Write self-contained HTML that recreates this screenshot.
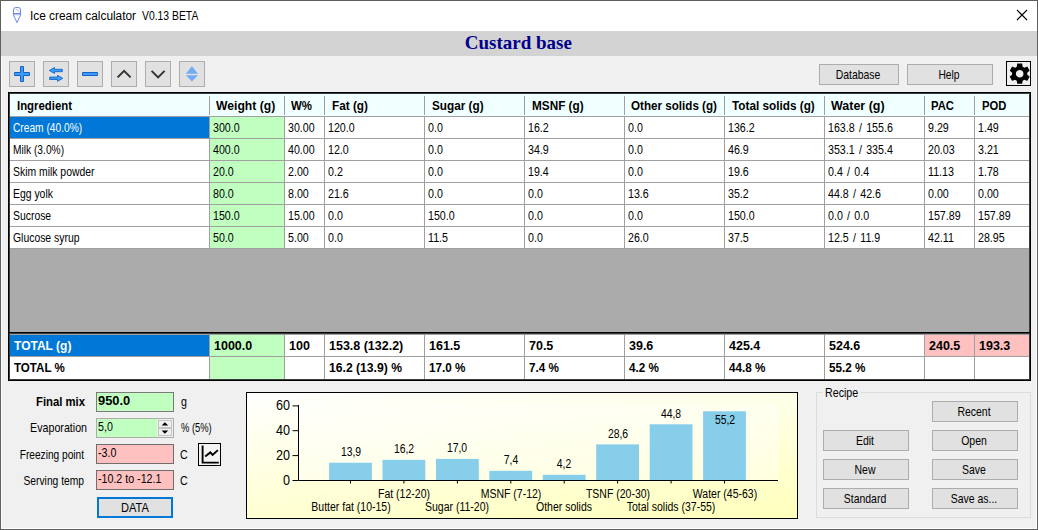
<!DOCTYPE html>
<html lang="en"><head><meta charset="utf-8"><title>Ice cream calculator</title>
<style>
html,body{margin:0;padding:0}
body{width:1038px;height:530px;position:relative;overflow:hidden;background:#f0f0f0;
 font-family:"Liberation Sans",Arial,sans-serif;font-size:13px;color:#000}
div,span,svg{position:absolute;box-sizing:border-box}
.t{white-space:pre;line-height:16px;font-size:13px}
.b{font-weight:bold}
.hd{font-family:"Liberation Serif","Times New Roman",serif;font-weight:bold;color:#00008b}
.ti{color:#000}
.w{color:#fff}
.btn{background:#e1e1e1;border:1px solid #adadad}
.vl{background:#a0a0a0;width:1px}
.hl{background:#a0a0a0;height:1px}
</style></head><body>

<div class="" style="left:0px;top:0px;width:1038px;height:530px;border:1px solid #5f5f5f"></div>
<div class="" style="left:1px;top:1px;width:1036px;height:528px;border:1px solid #fff;border-top:0"></div>
<div class="" style="left:1px;top:1px;width:1036px;height:30px;background:#fff"></div>
<div class="" style="left:1px;top:31px;width:1036px;height:25px;background:#d3d3d3"></div>
<svg style="left:11px;top:5px" width="12" height="20" viewBox="0 0 12 20">
<rect x="2.5" y="9" width="7" height="1.3" fill="#b4c4f7"/>
<g fill="none" stroke="#6a8aee" stroke-width="1">
<path d="M2.5 8.5 V4.8 Q2.5 2.5 4.8 2.5 H7.2 Q9.5 2.5 9.5 4.8 V8.5"/>
<path d="M4.2 4.2 Q7.6 3.6 8.4 7" stroke="#a9bcf6" stroke-width="0.9"/>
<path d="M2 8.5 H10"/>
<path d="M2.5 9 V10.2 L6 17.6 L9.5 10.2 V9"/>
</g></svg>
<span class="t ti" style="left:30px;top:7.7px;transform-origin:0 0;transform:scaleX(0.948);font-size:12.5px;">Ice cream calculator</span>
<span class="t ti" style="left:141.6px;top:7.7px;transform-origin:0 0;transform:scaleX(0.83);font-size:12.5px;">V0.13 BETA</span>
<svg style="left:1016px;top:9px" width="12" height="12" viewBox="0 0 12 12"><path d="M1 1 L11 11 M11 1 L1 11" stroke="#000" stroke-width="1.1" fill="none"/></svg>
<span class="t hd" style="left:518.3px;top:30.8px;transform-origin:50% 0;transform:translateX(-50%) scaleX(1);font-size:19px;line-height:24px;">Custard base</span>
<div class="btn" style="left:9px;top:61px;width:26px;height:26px;"></div>
<div class="btn" style="left:43px;top:61px;width:26px;height:26px;"></div>
<div class="btn" style="left:77px;top:61px;width:26px;height:26px;"></div>
<div class="btn" style="left:111px;top:61px;width:26px;height:26px;"></div>
<div class="btn" style="left:145px;top:61px;width:26px;height:26px;"></div>
<div class="btn" style="left:179px;top:61px;width:26px;height:26px;"></div>
<svg style="left:9px;top:61px" width="26" height="26" viewBox="0 0 26 26">
<path d="M11.5 5.5 H14.5 V11.5 H20.5 V14.5 H14.5 V20.5 H11.5 V14.5 H5.5 V11.5 H11.5 Z" fill="#3d9bff" stroke="#1565c0" stroke-width="1"/></svg>
<svg style="left:43px;top:61px" width="26" height="26" viewBox="0 0 26 26">
<path d="M6.3 9.5 L11.5 6.5 V8.3 H19.3 V10.7 H11.5 V12.5 Z" fill="#3d9bff" stroke="#1565c0" stroke-width="0.9"/>
<path d="M19.7 17.3 L14.5 14.3 V16.1 H6.7 V18.5 H14.5 V20.3 Z" fill="#3d9bff" stroke="#1565c0" stroke-width="0.9"/></svg>
<svg style="left:77px;top:61px" width="26" height="26" viewBox="0 0 26 26">
<path d="M5.5 11.5 H20.5 V14.5 H5.5 Z" fill="#3d9bff" stroke="#1565c0" stroke-width="1"/></svg>
<svg style="left:111px;top:61px" width="26" height="26" viewBox="0 0 26 26">
<path d="M6.6 16.4 L13.1 9.9 L19.6 16.4" fill="none" stroke="#333" stroke-width="2"/></svg>
<svg style="left:145px;top:61px" width="26" height="26" viewBox="0 0 26 26">
<path d="M6.6 9.9 L13.1 16.4 L19.6 9.9" fill="none" stroke="#333" stroke-width="2"/></svg>
<svg style="left:179px;top:61px" width="26" height="26" viewBox="0 0 26 26">
<path d="M12.9 5.2 L19 12.8 H6.8 Z M6.8 14.2 H19 L12.9 20.6 Z" fill="#74abf2"/></svg>
<div class="btn" style="left:819px;top:64px;width:80px;height:21px;"></div>
<span class="t r" style="left:858px;top:66.5px;transform-origin:50% 0;transform:translateX(-50%) scaleX(0.8);">Database</span>
<div class="btn" style="left:907px;top:64px;width:86px;height:21px;"></div>
<span class="t r" style="left:949px;top:66.5px;transform-origin:50% 0;transform:translateX(-50%) scaleX(0.79);">Help</span>
<div class="" style="left:1006px;top:61px;width:25px;height:25px;border:1px solid #000;background:#f0f0f0"></div>
<svg style="left:1006.5px;top:61.4px" width="25.4" height="25.4" viewBox="0 0 24 24"><path fill="#000" d="M19.14 12.94c.04-.3.06-.61.06-.94 0-.32-.02-.64-.07-.94l2.03-1.58c.18-.14.23-.41.12-.61l-1.92-3.32c-.12-.22-.37-.29-.59-.22l-2.39.96c-.5-.38-1.03-.7-1.62-.94l-.36-2.54c-.04-.24-.24-.41-.48-.41h-3.84c-.24 0-.43.17-.47.41l-.36 2.54c-.59.24-1.13.57-1.62.94l-2.39-.96c-.22-.08-.47 0-.59.22L2.74 8.87c-.12.21-.08.47.12.61l2.03 1.58c-.05.3-.09.63-.09.94s.02.64.07.94l-2.03 1.58c-.18.14-.23.41-.12.61l1.92 3.32c.12.22.37.29.59.22l2.39-.96c.5.38 1.03.7 1.62.94l.36 2.54c.05.24.24.41.48.41h3.84c.24 0 .44-.17.47-.41l.36-2.54c.59-.24 1.13-.56 1.62-.94l2.39.96c.22.08.47 0 .59-.22l1.92-3.32c.12-.22.07-.47-.12-.61l-2.01-1.58zM12 15.6c-1.98 0-3.6-1.62-3.6-3.6s1.62-3.6 3.6-3.6 3.6 1.62 3.6 3.6-1.62 3.6-3.6 3.6z"/></svg>
<div class="" style="left:8px;top:92px;width:1023px;height:242px;background:#ababab;border:1px solid #000"></div>
<div class="" style="left:9px;top:93px;width:1021px;height:240px;border:1px solid #3c3c3c"></div>
<div class="" style="left:10px;top:94px;width:1019px;height:22px;background:#f0ffff"></div>
<div class="hl" style="left:10px;top:116px;width:1019px;height:1px;"></div>
<div class="vl" style="left:209px;top:96px;width:1px;height:19px;"></div>
<div class="vl" style="left:284px;top:96px;width:1px;height:19px;"></div>
<div class="vl" style="left:324px;top:96px;width:1px;height:19px;"></div>
<div class="vl" style="left:424px;top:96px;width:1px;height:19px;"></div>
<div class="vl" style="left:524px;top:96px;width:1px;height:19px;"></div>
<div class="vl" style="left:624px;top:96px;width:1px;height:19px;"></div>
<div class="vl" style="left:724px;top:96px;width:1px;height:19px;"></div>
<div class="vl" style="left:824px;top:96px;width:1px;height:19px;"></div>
<div class="vl" style="left:924px;top:96px;width:1px;height:19px;"></div>
<div class="vl" style="left:974px;top:96px;width:1px;height:19px;"></div>
<span class="t b" style="left:17px;top:97.5px;transform-origin:0 0;transform:scaleX(0.875);">Ingredient</span>
<span class="t b" style="left:216px;top:97.5px;transform-origin:0 0;transform:scaleX(0.935);">Weight (g)</span>
<span class="t b" style="left:291.2px;top:97.5px;transform-origin:0 0;transform:scaleX(0.88);">W%</span>
<span class="t b" style="left:332px;top:97.5px;transform-origin:0 0;transform:scaleX(0.905);">Fat (g)</span>
<span class="t b" style="left:432px;top:97.5px;transform-origin:0 0;transform:scaleX(0.905);">Sugar (g)</span>
<span class="t b" style="left:532px;top:97.5px;transform-origin:0 0;transform:scaleX(0.905);">MSNF (g)</span>
<span class="t b" style="left:630.7px;top:97.5px;transform-origin:0 0;transform:scaleX(0.895);">Other solids (g)</span>
<span class="t b" style="left:732px;top:97.5px;transform-origin:0 0;transform:scaleX(0.905);">Total solids (g)</span>
<span class="t b" style="left:830.6px;top:97.5px;transform-origin:0 0;transform:scaleX(0.96);">Water (g)</span>
<span class="t b" style="left:931px;top:97.5px;transform-origin:0 0;transform:scaleX(0.865);">PAC</span>
<span class="t b" style="left:982px;top:97.5px;transform-origin:0 0;transform:scaleX(0.865);">POD</span>
<div class="" style="left:10px;top:117px;width:1019px;height:132px;background:#fff"></div>
<div class="" style="left:210px;top:117px;width:74px;height:132px;background:#c0ffc0"></div>
<div class="" style="left:10px;top:117px;width:199px;height:21px;background:#0078d7"></div>
<div class="hl" style="left:10px;top:138px;width:1019px;height:1px;"></div>
<div class="hl" style="left:10px;top:160px;width:1019px;height:1px;"></div>
<div class="hl" style="left:10px;top:182px;width:1019px;height:1px;"></div>
<div class="hl" style="left:10px;top:204px;width:1019px;height:1px;"></div>
<div class="hl" style="left:10px;top:226px;width:1019px;height:1px;"></div>
<div class="hl" style="left:10px;top:248px;width:1019px;height:1px;"></div>
<div class="vl" style="left:209px;top:117px;width:1px;height:132px;"></div>
<div class="vl" style="left:284px;top:117px;width:1px;height:132px;"></div>
<div class="vl" style="left:324px;top:117px;width:1px;height:132px;"></div>
<div class="vl" style="left:424px;top:117px;width:1px;height:132px;"></div>
<div class="vl" style="left:524px;top:117px;width:1px;height:132px;"></div>
<div class="vl" style="left:624px;top:117px;width:1px;height:132px;"></div>
<div class="vl" style="left:724px;top:117px;width:1px;height:132px;"></div>
<div class="vl" style="left:824px;top:117px;width:1px;height:132px;"></div>
<div class="vl" style="left:924px;top:117px;width:1px;height:132px;"></div>
<div class="vl" style="left:974px;top:117px;width:1px;height:132px;"></div>
<span class="t r w" style="left:13px;top:119.5px;transform-origin:0 0;transform:scaleX(0.785);">Cream (40.0%)</span>
<span class="t r" style="left:213px;top:119.5px;transform-origin:0 0;transform:scaleX(0.82);">300.0</span>
<span class="t r" style="left:288px;top:119.5px;transform-origin:0 0;transform:scaleX(0.82);">30.00</span>
<span class="t r" style="left:328px;top:119.5px;transform-origin:0 0;transform:scaleX(0.82);">120.0</span>
<span class="t r" style="left:428px;top:119.5px;transform-origin:0 0;transform:scaleX(0.82);">0.0</span>
<span class="t r" style="left:528px;top:119.5px;transform-origin:0 0;transform:scaleX(0.82);">16.2</span>
<span class="t r" style="left:628px;top:119.5px;transform-origin:0 0;transform:scaleX(0.82);">0.0</span>
<span class="t r" style="left:728px;top:119.5px;transform-origin:0 0;transform:scaleX(0.82);">136.2</span>
<span class="t r" style="left:828px;top:119.5px;transform-origin:0 0;transform:scaleX(0.82);word-spacing:1.6px;">163.8 / 155.6</span>
<span class="t r" style="left:928px;top:119.5px;transform-origin:0 0;transform:scaleX(0.82);">9.29</span>
<span class="t r" style="left:978px;top:119.5px;transform-origin:0 0;transform:scaleX(0.82);">1.49</span>
<span class="t r" style="left:13px;top:141.5px;transform-origin:0 0;transform:scaleX(0.785);">Milk (3.0%)</span>
<span class="t r" style="left:213px;top:141.5px;transform-origin:0 0;transform:scaleX(0.82);">400.0</span>
<span class="t r" style="left:288px;top:141.5px;transform-origin:0 0;transform:scaleX(0.82);">40.00</span>
<span class="t r" style="left:328px;top:141.5px;transform-origin:0 0;transform:scaleX(0.82);">12.0</span>
<span class="t r" style="left:428px;top:141.5px;transform-origin:0 0;transform:scaleX(0.82);">0.0</span>
<span class="t r" style="left:528px;top:141.5px;transform-origin:0 0;transform:scaleX(0.82);">34.9</span>
<span class="t r" style="left:628px;top:141.5px;transform-origin:0 0;transform:scaleX(0.82);">0.0</span>
<span class="t r" style="left:728px;top:141.5px;transform-origin:0 0;transform:scaleX(0.82);">46.9</span>
<span class="t r" style="left:828px;top:141.5px;transform-origin:0 0;transform:scaleX(0.82);word-spacing:1.6px;">353.1 / 335.4</span>
<span class="t r" style="left:928px;top:141.5px;transform-origin:0 0;transform:scaleX(0.82);">20.03</span>
<span class="t r" style="left:978px;top:141.5px;transform-origin:0 0;transform:scaleX(0.82);">3.21</span>
<span class="t r" style="left:13px;top:163.5px;transform-origin:0 0;transform:scaleX(0.8);">Skim milk powder</span>
<span class="t r" style="left:213px;top:163.5px;transform-origin:0 0;transform:scaleX(0.82);">20.0</span>
<span class="t r" style="left:288px;top:163.5px;transform-origin:0 0;transform:scaleX(0.82);">2.00</span>
<span class="t r" style="left:328px;top:163.5px;transform-origin:0 0;transform:scaleX(0.82);">0.2</span>
<span class="t r" style="left:428px;top:163.5px;transform-origin:0 0;transform:scaleX(0.82);">0.0</span>
<span class="t r" style="left:528px;top:163.5px;transform-origin:0 0;transform:scaleX(0.82);">19.4</span>
<span class="t r" style="left:628px;top:163.5px;transform-origin:0 0;transform:scaleX(0.82);">0.0</span>
<span class="t r" style="left:728px;top:163.5px;transform-origin:0 0;transform:scaleX(0.82);">19.6</span>
<span class="t r" style="left:828px;top:163.5px;transform-origin:0 0;transform:scaleX(0.82);word-spacing:1.6px;">0.4 / 0.4</span>
<span class="t r" style="left:928px;top:163.5px;transform-origin:0 0;transform:scaleX(0.82);">11.13</span>
<span class="t r" style="left:978px;top:163.5px;transform-origin:0 0;transform:scaleX(0.82);">1.78</span>
<span class="t r" style="left:13px;top:185.5px;transform-origin:0 0;transform:scaleX(0.8);">Egg yolk</span>
<span class="t r" style="left:213px;top:185.5px;transform-origin:0 0;transform:scaleX(0.82);">80.0</span>
<span class="t r" style="left:288px;top:185.5px;transform-origin:0 0;transform:scaleX(0.82);">8.00</span>
<span class="t r" style="left:328px;top:185.5px;transform-origin:0 0;transform:scaleX(0.82);">21.6</span>
<span class="t r" style="left:428px;top:185.5px;transform-origin:0 0;transform:scaleX(0.82);">0.0</span>
<span class="t r" style="left:528px;top:185.5px;transform-origin:0 0;transform:scaleX(0.82);">0.0</span>
<span class="t r" style="left:628px;top:185.5px;transform-origin:0 0;transform:scaleX(0.82);">13.6</span>
<span class="t r" style="left:728px;top:185.5px;transform-origin:0 0;transform:scaleX(0.82);">35.2</span>
<span class="t r" style="left:828px;top:185.5px;transform-origin:0 0;transform:scaleX(0.82);word-spacing:1.6px;">44.8 / 42.6</span>
<span class="t r" style="left:928px;top:185.5px;transform-origin:0 0;transform:scaleX(0.82);">0.00</span>
<span class="t r" style="left:978px;top:185.5px;transform-origin:0 0;transform:scaleX(0.82);">0.00</span>
<span class="t r" style="left:13px;top:207.5px;transform-origin:0 0;transform:scaleX(0.8);">Sucrose</span>
<span class="t r" style="left:213px;top:207.5px;transform-origin:0 0;transform:scaleX(0.82);">150.0</span>
<span class="t r" style="left:288px;top:207.5px;transform-origin:0 0;transform:scaleX(0.82);">15.00</span>
<span class="t r" style="left:328px;top:207.5px;transform-origin:0 0;transform:scaleX(0.82);">0.0</span>
<span class="t r" style="left:428px;top:207.5px;transform-origin:0 0;transform:scaleX(0.82);">150.0</span>
<span class="t r" style="left:528px;top:207.5px;transform-origin:0 0;transform:scaleX(0.82);">0.0</span>
<span class="t r" style="left:628px;top:207.5px;transform-origin:0 0;transform:scaleX(0.82);">0.0</span>
<span class="t r" style="left:728px;top:207.5px;transform-origin:0 0;transform:scaleX(0.82);">150.0</span>
<span class="t r" style="left:828px;top:207.5px;transform-origin:0 0;transform:scaleX(0.82);word-spacing:1.6px;">0.0 / 0.0</span>
<span class="t r" style="left:928px;top:207.5px;transform-origin:0 0;transform:scaleX(0.82);">157.89</span>
<span class="t r" style="left:978px;top:207.5px;transform-origin:0 0;transform:scaleX(0.82);">157.89</span>
<span class="t r" style="left:13px;top:229.5px;transform-origin:0 0;transform:scaleX(0.8);">Glucose syrup</span>
<span class="t r" style="left:213px;top:229.5px;transform-origin:0 0;transform:scaleX(0.82);">50.0</span>
<span class="t r" style="left:288px;top:229.5px;transform-origin:0 0;transform:scaleX(0.82);">5.00</span>
<span class="t r" style="left:328px;top:229.5px;transform-origin:0 0;transform:scaleX(0.82);">0.0</span>
<span class="t r" style="left:428px;top:229.5px;transform-origin:0 0;transform:scaleX(0.82);">11.5</span>
<span class="t r" style="left:528px;top:229.5px;transform-origin:0 0;transform:scaleX(0.82);">0.0</span>
<span class="t r" style="left:628px;top:229.5px;transform-origin:0 0;transform:scaleX(0.82);">26.0</span>
<span class="t r" style="left:728px;top:229.5px;transform-origin:0 0;transform:scaleX(0.82);">37.5</span>
<span class="t r" style="left:828px;top:229.5px;transform-origin:0 0;transform:scaleX(0.82);word-spacing:1.6px;">12.5 / 11.9</span>
<span class="t r" style="left:928px;top:229.5px;transform-origin:0 0;transform:scaleX(0.82);">42.11</span>
<span class="t r" style="left:978px;top:229.5px;transform-origin:0 0;transform:scaleX(0.82);">28.95</span>
<div class="" style="left:8px;top:332px;width:1023px;height:49px;background:#fff;border:1px solid #000"></div>
<div class="" style="left:9px;top:333px;width:1021px;height:47px;border:1px solid #3c3c3c"></div>
<div class="hl" style="left:10px;top:334px;width:1019px;height:1px;"></div>
<div class="" style="left:10px;top:335px;width:199px;height:21px;background:#0078d7"></div>
<div class="" style="left:210px;top:335px;width:74px;height:44px;background:#c0ffc0"></div>
<div class="" style="left:925px;top:335px;width:49px;height:21px;background:#ffc0c0"></div>
<div class="" style="left:975px;top:335px;width:54px;height:21px;background:#ffc0c0"></div>
<div class="hl" style="left:10px;top:356px;width:1019px;height:1px;"></div>
<div class="vl" style="left:209px;top:335px;width:1px;height:44px;"></div>
<div class="vl" style="left:284px;top:335px;width:1px;height:44px;"></div>
<div class="vl" style="left:324px;top:335px;width:1px;height:44px;"></div>
<div class="vl" style="left:424px;top:335px;width:1px;height:44px;"></div>
<div class="vl" style="left:524px;top:335px;width:1px;height:44px;"></div>
<div class="vl" style="left:624px;top:335px;width:1px;height:44px;"></div>
<div class="vl" style="left:724px;top:335px;width:1px;height:44px;"></div>
<div class="vl" style="left:824px;top:335px;width:1px;height:44px;"></div>
<div class="vl" style="left:924px;top:335px;width:1px;height:44px;"></div>
<div class="vl" style="left:974px;top:335px;width:1px;height:44px;"></div>
<span class="t b w" style="left:14px;top:337.5px;transform-origin:0 0;transform:scaleX(0.925);">TOTAL (g)</span>
<span class="t b" style="left:214px;top:337.5px;transform-origin:0 0;transform:scaleX(0.96);">1000.0</span>
<span class="t b" style="left:289px;top:337.5px;transform-origin:0 0;transform:scaleX(0.96);">100</span>
<span class="t b" style="left:329px;top:337.5px;transform-origin:0 0;transform:scaleX(0.96);">153.8 (132.2)</span>
<span class="t b" style="left:429px;top:337.5px;transform-origin:0 0;transform:scaleX(0.96);">161.5</span>
<span class="t b" style="left:529px;top:337.5px;transform-origin:0 0;transform:scaleX(0.96);">70.5</span>
<span class="t b" style="left:629px;top:337.5px;transform-origin:0 0;transform:scaleX(0.96);">39.6</span>
<span class="t b" style="left:729px;top:337.5px;transform-origin:0 0;transform:scaleX(0.96);">425.4</span>
<span class="t b" style="left:829px;top:337.5px;transform-origin:0 0;transform:scaleX(0.96);">524.6</span>
<span class="t b" style="left:929px;top:337.5px;transform-origin:0 0;transform:scaleX(0.96);">240.5</span>
<span class="t b" style="left:979px;top:337.5px;transform-origin:0 0;transform:scaleX(0.96);">193.3</span>
<span class="t b" style="left:14px;top:359.5px;transform-origin:0 0;transform:scaleX(0.89);">TOTAL %</span>
<span class="t b" style="left:329px;top:359.5px;transform-origin:0 0;transform:scaleX(0.935);">16.2 (13.9) %</span>
<span class="t b" style="left:429px;top:359.5px;transform-origin:0 0;transform:scaleX(0.9);">17.0 %</span>
<span class="t b" style="left:529px;top:359.5px;transform-origin:0 0;transform:scaleX(0.9);">7.4 %</span>
<span class="t b" style="left:629px;top:359.5px;transform-origin:0 0;transform:scaleX(0.9);">4.2 %</span>
<span class="t b" style="left:729px;top:359.5px;transform-origin:0 0;transform:scaleX(0.9);">44.8 %</span>
<span class="t b" style="left:829px;top:359.5px;transform-origin:0 0;transform:scaleX(0.9);">55.2 %</span>
<span class="t b" style="left:85px;top:393.5px;transform-origin:100% 0;transform:translateX(-100%) scaleX(0.87);">Final mix</span>
<span class="t r" style="left:87px;top:419.5px;transform-origin:100% 0;transform:translateX(-100%) scaleX(0.82);">Evaporation</span>
<span class="t r" style="left:83.5px;top:446.5px;transform-origin:100% 0;transform:translateX(-100%) scaleX(0.78);">Freezing point</span>
<span class="t r" style="left:83.5px;top:472.5px;transform-origin:100% 0;transform:translateX(-100%) scaleX(0.79);">Serving temp</span>
<div class="" style="left:96px;top:392px;width:78px;height:20px;background:#c0ffc0;border:1px solid #7a7a7a"></div>
<span class="t b" style="left:98px;top:392.5px;transform-origin:0 0;transform:scaleX(0.99);">950.0</span>
<div class="" style="left:96px;top:418px;width:78px;height:20px;background:#c0ffc0;border:1px solid #adadad"></div>
<div class="" style="left:157px;top:419px;width:16px;height:18px;background:#f0f0f0"></div>
<div class="" style="left:158px;top:420px;width:14px;height:8px;background:#f0f0f0;border:1px solid #c4c4c4"></div>
<div class="" style="left:158px;top:428px;width:14px;height:8px;background:#f0f0f0;border:1px solid #c4c4c4"></div>
<svg style="left:158px;top:420px" width="14" height="16" viewBox="0 0 14 16"><path d="M3.6 5.6 L6.9 2.3 L10.2 5.6 Z M3.6 10.4 L6.9 13.7 L10.2 10.4 Z" fill="#000"/></svg>
<span class="t r" style="left:98.3px;top:418.5px;transform-origin:0 0;transform:scaleX(0.82);">5,0</span>
<div class="" style="left:96px;top:444px;width:78px;height:20px;background:#ffc0c0;border:1px solid #6e6e6e"></div>
<span class="t r" style="left:98.3px;top:444.5px;transform-origin:0 0;transform:scaleX(0.82);">-3.0</span>
<div class="" style="left:96px;top:470px;width:78px;height:20px;background:#ffc0c0;border:1px solid #6e6e6e"></div>
<span class="t r" style="left:98.3px;top:470.5px;transform-origin:0 0;transform:scaleX(0.82);">-10.2 to -12.1</span>
<span class="t r" style="left:180.5px;top:393.5px;transform-origin:0 0;transform:scaleX(0.82);">g</span>
<span class="t r" style="left:181px;top:419.5px;transform-origin:0 0;transform:scaleX(0.72);">% (5%)</span>
<span class="t r" style="left:180px;top:446.5px;transform-origin:0 0;transform:scaleX(0.82);">C</span>
<span class="t r" style="left:180px;top:472.5px;transform-origin:0 0;transform:scaleX(0.82);">C</span>
<div class="" style="left:198px;top:443px;width:23px;height:23px;border:1px solid #000;background:#f4f4f4"></div>
<svg style="left:198px;top:443px" width="23" height="23" viewBox="0 0 23 23">
<path d="M4.6 2.6 V19.6 H20.8" fill="none" stroke="#000" stroke-width="1.9"/>
<path d="M7.2 13.6 L12.3 9.4 L14.6 11.9 L19.9 7.1" fill="none" stroke="#000" stroke-width="1.9"/></svg>
<div class="" style="left:97px;top:497px;width:76px;height:21px;background:#e1e1e1;border:2px solid #0078d7"></div>
<span class="t r" style="left:135px;top:499.5px;transform-origin:50% 0;transform:translateX(-50%) scaleX(0.82);font-size:13.5px;">DATA</span>
<div class="" style="left:246px;top:392px;width:552px;height:127px;border:1px solid #000;background:linear-gradient(174deg,#ffffff 0%,#ffffbc 100%)"></div>
<div class="" style="left:299px;top:405px;width:479px;height:75px;background:rgba(255,255,255,0.4)"></div>
<svg style="left:246px;top:392px" width="552" height="127" viewBox="246 392 552 127"><rect x="329.1" y="462.7" width="42.8" height="17.3" fill="#87ceeb"/><rect x="382.5" y="459.8" width="42.8" height="20.2" fill="#87ceeb"/><rect x="436.0" y="458.9" width="42.8" height="21.1" fill="#87ceeb"/><rect x="489.4" y="470.8" width="42.8" height="9.2" fill="#87ceeb"/><rect x="542.8" y="474.8" width="42.8" height="5.2" fill="#87ceeb"/><rect x="596.2" y="444.4" width="42.8" height="35.6" fill="#87ceeb"/><rect x="649.7" y="424.3" width="42.8" height="55.7" fill="#87ceeb"/><rect x="703.1" y="411.3" width="42.8" height="68.7" fill="#87ceeb"/><path d="M298.5 405 V480.5 H778" fill="none" stroke="#000" stroke-width="1"/><path d="M292.5 480.5 H298" stroke="#000" stroke-width="1"/><path d="M292.5 455.6 H298" stroke="#000" stroke-width="1"/><path d="M292.5 430.7 H298" stroke="#000" stroke-width="1"/><path d="M292.5 405.9 H298" stroke="#000" stroke-width="1"/><path d="M350.5 480 v3.5" stroke="#000" stroke-width="1"/><path d="M403.9 480 v3.5" stroke="#000" stroke-width="1"/><path d="M457.4 480 v3.5" stroke="#000" stroke-width="1"/><path d="M510.8 480 v3.5" stroke="#000" stroke-width="1"/><path d="M564.2 480 v3.5" stroke="#000" stroke-width="1"/><path d="M617.6 480 v3.5" stroke="#000" stroke-width="1"/><path d="M671.1 480 v3.5" stroke="#000" stroke-width="1"/><path d="M724.5 480 v3.5" stroke="#000" stroke-width="1"/></svg>
<span class="t r" style="left:290px;top:471.5px;transform-origin:100% 0;transform:translateX(-100%) scaleX(0.9);font-size:14px;">0</span>
<span class="t r" style="left:290px;top:446.62px;transform-origin:100% 0;transform:translateX(-100%) scaleX(0.9);font-size:14px;">20</span>
<span class="t r" style="left:290px;top:421.74px;transform-origin:100% 0;transform:translateX(-100%) scaleX(0.9);font-size:14px;">40</span>
<span class="t r" style="left:290px;top:396.86px;transform-origin:100% 0;transform:translateX(-100%) scaleX(0.9);font-size:14px;">60</span>
<span class="t r" style="left:350.5px;top:444.008px;transform-origin:50% 0;transform:translateX(-50%) scaleX(0.83);font-size:12.5px;">13,9</span>
<span class="t r" style="left:350.5px;top:499.3px;transform-origin:50% 0;transform:translateX(-50%) scaleX(0.84);font-size:12.5px;">Butter fat (10-15)</span>
<span class="t r" style="left:403.93px;top:441.147px;transform-origin:50% 0;transform:translateX(-50%) scaleX(0.83);font-size:12.5px;">16,2</span>
<span class="t r" style="left:403.93px;top:485.8px;transform-origin:50% 0;transform:translateX(-50%) scaleX(0.84);font-size:12.5px;">Fat (12-20)</span>
<span class="t r" style="left:457.36px;top:440.152px;transform-origin:50% 0;transform:translateX(-50%) scaleX(0.83);font-size:12.5px;">17,0</span>
<span class="t r" style="left:457.36px;top:499.3px;transform-origin:50% 0;transform:translateX(-50%) scaleX(0.84);font-size:12.5px;">Sugar (11-20)</span>
<span class="t r" style="left:510.79px;top:452.094px;transform-origin:50% 0;transform:translateX(-50%) scaleX(0.83);font-size:12.5px;">7,4</span>
<span class="t r" style="left:510.79px;top:485.8px;transform-origin:50% 0;transform:translateX(-50%) scaleX(0.84);font-size:12.5px;">MSNF (7-12)</span>
<span class="t r" style="left:564.22px;top:456.075px;transform-origin:50% 0;transform:translateX(-50%) scaleX(0.83);font-size:12.5px;">4,2</span>
<span class="t r" style="left:564.22px;top:499.3px;transform-origin:50% 0;transform:translateX(-50%) scaleX(0.84);font-size:12.5px;">Other solids</span>
<span class="t r" style="left:617.65px;top:425.722px;transform-origin:50% 0;transform:translateX(-50%) scaleX(0.83);font-size:12.5px;">28,6</span>
<span class="t r" style="left:617.65px;top:485.8px;transform-origin:50% 0;transform:translateX(-50%) scaleX(0.84);font-size:12.5px;">TSNF (20-30)</span>
<span class="t r" style="left:671.08px;top:405.569px;transform-origin:50% 0;transform:translateX(-50%) scaleX(0.83);font-size:12.5px;">44,8</span>
<span class="t r" style="left:671.08px;top:499.3px;transform-origin:50% 0;transform:translateX(-50%) scaleX(0.84);font-size:12.5px;">Total solids (37-55)</span>
<span class="t r" style="left:724.51px;top:412.131px;transform-origin:50% 0;transform:translateX(-50%) scaleX(0.83);font-size:12.5px;">55,2</span>
<span class="t r" style="left:724.51px;top:485.8px;transform-origin:50% 0;transform:translateX(-50%) scaleX(0.84);font-size:12.5px;">Water (45-63)</span>
<div class="" style="left:816px;top:392px;width:215px;height:126px;border:1px solid #dcdcdc"></div>
<div class="" style="left:823px;top:386px;width:38px;height:14px;background:#f0f0f0"></div>
<span class="t r" style="left:824.8px;top:384.5px;transform-origin:0 0;transform:scaleX(0.82);">Recipe</span>
<div class="btn" style="left:932px;top:401px;width:86px;height:21px;"></div>
<span class="t r" style="left:973.6px;top:403.5px;transform-origin:50% 0;transform:translateX(-50%) scaleX(0.805);">Recent</span>
<div class="btn" style="left:932px;top:430px;width:86px;height:21px;"></div>
<span class="t r" style="left:973.6px;top:432.5px;transform-origin:50% 0;transform:translateX(-50%) scaleX(0.805);">Open</span>
<div class="btn" style="left:932px;top:459px;width:86px;height:21px;"></div>
<span class="t r" style="left:973.6px;top:461.5px;transform-origin:50% 0;transform:translateX(-50%) scaleX(0.805);">Save</span>
<div class="btn" style="left:932px;top:488px;width:86px;height:21px;"></div>
<span class="t r" style="left:973.6px;top:490.5px;transform-origin:50% 0;transform:translateX(-50%) scaleX(0.805);">Save as...</span>
<div class="btn" style="left:823px;top:430px;width:86px;height:21px;"></div>
<span class="t r" style="left:864.6px;top:432.5px;transform-origin:50% 0;transform:translateX(-50%) scaleX(0.805);">Edit</span>
<div class="btn" style="left:823px;top:459px;width:86px;height:21px;"></div>
<span class="t r" style="left:864.6px;top:461.5px;transform-origin:50% 0;transform:translateX(-50%) scaleX(0.805);">New</span>
<div class="btn" style="left:823px;top:488px;width:86px;height:21px;"></div>
<span class="t r" style="left:864.6px;top:490.5px;transform-origin:50% 0;transform:translateX(-50%) scaleX(0.805);">Standard</span>
</body></html>
